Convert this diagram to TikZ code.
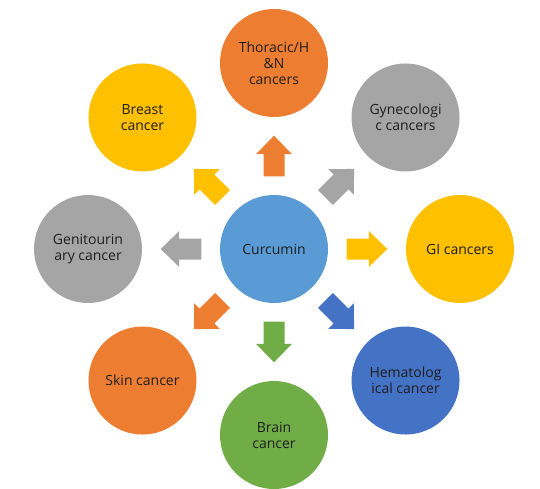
\documentclass[tikz,border=0pt]{standalone}
\usepackage{fontspec}
\setmainfont{Open Sans}
\usetikzlibrary{calc}
\definecolor{cblue}{HTML}{5B9BD5}
\definecolor{dblue}{HTML}{4472C4}
\definecolor{corange}{HTML}{ED7D31}
\definecolor{cgray}{HTML}{A5A5A5}
\definecolor{cyellow}{HTML}{FFC000}
\definecolor{cgreen}{HTML}{70AD47}
\definecolor{ctext}{HTML}{1E1E1E}
\newcommand\blockarrow[3]{%
  \begin{scope}[shift={($(c)!0.5!(#3)$)}, rotate=#2]
    \fill[#1] (-20.3,-10.5) -- (1.8,-10.5) -- (1.8,-18) -- (20.3,0) -- (1.8,18) -- (1.8,10.5) -- (-20.3,10.5) -- cycle;
  \end{scope}}
\begin{document}
\begin{tikzpicture}[x=1pt,y=1pt,
  bubble/.style={circle, minimum size=108pt, inner sep=0pt, align=center,
    text=ctext, font=\fontsize{14}{16}\selectfont}]
\useasboundingbox (0,0) rectangle (540,488);
\node[bubble, fill=cblue] (c) at (274,239) {Curcumin};
\node[bubble, fill=corange] (n) at ($(c)+(90:186)$) {Thoracic/H\\\&N\\cancers};
\node[bubble, fill=cgray] (ne) at ($(c)+(45:186)$) {Gynecologi\\c cancers};
\node[bubble, fill=cyellow] (e) at ($(c)+(0:186)$) {GI cancers};
\node[bubble, fill=dblue] (se) at ($(c)+(-45:186)$) {Hematolog\\ical cancer};
\node[bubble, fill=cgreen] (s) at ($(c)+(-90:186)$) {Brain\\cancer};
\node[bubble, fill=corange] (sw) at ($(c)+(-135:186)$) {Skin cancer};
\node[bubble, fill=cgray] (w) at ($(c)+(180:186)$) {Genitourin\\ary cancer};
\node[bubble, fill=cyellow] (nw) at ($(c)+(135:186)$) {Breast\\cancer};
\blockarrow{corange}{90}{n}
\blockarrow{cgray}{45}{ne}
\blockarrow{cyellow}{0}{e}
\blockarrow{dblue}{-45}{se}
\blockarrow{cgreen}{-90}{s}
\blockarrow{corange}{-135}{sw}
\blockarrow{cgray}{180}{w}
\blockarrow{cyellow}{135}{nw}
\end{tikzpicture}
\end{document}
